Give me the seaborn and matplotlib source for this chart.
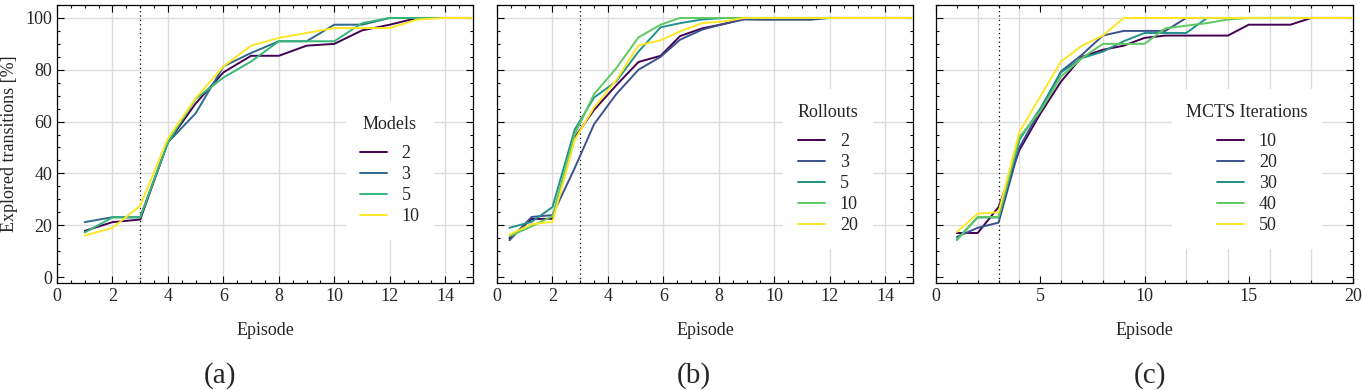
import numpy as np
import pandas as pd
import matplotlib
matplotlib.use("Agg")
import matplotlib.pyplot as plt
from matplotlib.ticker import MultipleLocator
import seaborn as sns

# ---------------- data ----------------
episodes_a = [1, 2, 3, 4, 5, 6, 7, 8, 9, 10, 11, 12, 13, 14, 15]
models_labels = ["2", "3", "5", "10"]
models_2 = [17.8, 21.2, 22.2, 52, 67, 79, 85.4, 85.4, 89.3, 90, 95.2, 97.4, 100, 100, 100]
models_3 = [21.2, 23.1, 23.1, 52, 63.2, 81.3, 86.5, 91, 91, 97.4, 97.4, 100, 100, 100, 100]
models_5 = [17.2, 23, 23, 52, 68.8, 77, 83.2, 91, 91, 91, 98, 100, 100, 100, 100]
models_10 = [16, 19, 27.5, 53.5, 69, 81.3, 89.3, 92.3, 94.2, 96.1, 96.1, 96.1, 99.4, 100, 100]

episodes_b = [0.45, 1.25, 2.0, 2.8, 3.5, 4.3, 5.1, 5.9, 6.6, 7.4, 8.2, 8.9, 9.7, 10.5, 11.3, 12.0, 12.8, 13.6, 14.3, 15.1]
rollout_labels = ["2", "3", "5", "10", "20"]
rollouts_2 = [15, 22.4, 22.5, 53.8, 64.5, 74, 83, 85.4, 93, 96, 97.7, 99.6, 100, 100, 100, 100, 100, 100, 100, 100]
rollouts_3 = [14.2, 23.2, 23.9, 42, 59, 70.6, 80, 85, 91.6, 95.5, 97.8, 99.4, 99.3, 99.3, 99.3, 100, 100, 100, 100, 100]
rollouts_5 = [19, 21.3, 27, 56.8, 69.3, 75.5, 87, 96.4, 98, 99.4, 100, 100, 100, 100, 100, 100, 100, 100, 100, 100]
rollouts_10 = [15.7, 19.6, 23.5, 55, 70.6, 80.6, 92.5, 97.4, 100, 100, 100, 100, 100, 100, 100, 100, 100, 100, 100, 100]
rollouts_20 = [16.4, 20.4, 21.3, 52.9, 65.5, 76, 89.4, 91.4, 94.8, 98, 98.7, 100, 100, 100, 100, 100, 100, 100, 100, 100]

episodes_c = [1, 2, 3, 4, 5, 6, 7, 8, 9, 10, 11, 12, 13, 14, 15, 16, 17, 18, 19, 20]
mcts_labels = ["10", "20", "30", "40", "50"]
mcts_10 = [17, 17, 27, 49, 63, 75.5, 85, 87.7, 89.3, 92.3, 93.2, 93.2, 93.2, 93.2, 97.4, 97.4, 97.4, 100, 100, 100]
mcts_20 = [15.5, 19, 21, 50, 64.5, 79.4, 85.8, 93.2, 95, 95, 95, 100, 100, 100, 100, 100, 100, 100, 100, 100]
mcts_30 = [14.6, 23, 23, 53, 65, 79, 84.5, 87, 91, 94.2, 94.2, 94.2, 100, 100, 100, 100, 100, 100, 100, 100]
mcts_40 = [14.2, 23.2, 23.2, 54, 64, 77.4, 84.5, 90, 90, 90, 96, 97, 98, 99.4, 100, 100, 100, 100, 100, 100]
mcts_50 = [17.4, 24.5, 25, 56, 69.7, 83.2, 89.3, 93.2, 100, 100, 100, 100, 100, 100, 100, 100, 100, 100, 100, 100]

panel_letters = ["(a)", "(b)", "(c)"]
legend_titles = ["Models", "Rollouts", "MCTS Iterations"]

# ---------------- style ----------------
sns.set_theme(style="white")
plt.rcParams["font.family"] = ["Liberation Serif", "DejaVu Serif"]
plt.rcParams["font.size"] = 13

def long_frame(x, labels, series):
    rows = []
    for lab, ys in zip(labels, series):
        for xi, yi in zip(x, ys):
            rows.append({"Episode": xi, "value": yi, "group": lab})
    return pd.DataFrame(rows)

panels = [
    (episodes_a, models_labels, [models_2, models_3, models_5, models_10], 15, 2, 0.5, [2, 4, 6, 8, 10, 12, 14], (0.80, 0.405)),
    (episodes_b, rollout_labels, [rollouts_2, rollouts_3, rollouts_5, rollouts_10, rollouts_20], 15, 2, 0.5, [2, 4, 6, 8, 10, 12, 14], (0.796, 0.41)),
    (episodes_c, mcts_labels, [mcts_10, mcts_20, mcts_30, mcts_40, mcts_50], 20, 5, 1, [2, 4, 6, 8, 10, 12, 14, 16, 18], (0.746, 0.41)),
]

W, H = 1363, 390
fig = plt.figure(figsize=(W / 100, H / 100), dpi=100)
lefts = [57, 497, 936]
widths = [416, 416, 417]
letter_x = [220, 694, 1150]
top_px, bot_px = 5, 283

for i, (x, labels, series, xmax, xmaj, xmin, vgrid, lpos) in enumerate(panels):
    ax = fig.add_axes([lefts[i] / W, (H - bot_px) / H, widths[i] / W, (bot_px - top_px) / H])
    df = long_frame(x, labels, series)
    cols = plt.cm.viridis(np.linspace(0, 1, len(labels)))
    pal = {lab: cols[k] for k, lab in enumerate(labels)}
    sns.lineplot(data=df, x="Episode", y="value", hue="group", hue_order=labels,
                 palette=pal, lw=1.4, ax=ax, zorder=3)
    ax.set_xlim(0, xmax)
    ax.set_ylim(-2.3, 105)
    ax.xaxis.set_major_locator(MultipleLocator(xmaj))
    ax.xaxis.set_minor_locator(MultipleLocator(xmin))
    ax.yaxis.set_major_locator(MultipleLocator(20))
    ax.yaxis.set_minor_locator(MultipleLocator(5))
    for gx in vgrid:
        ax.axvline(gx, color="#dcdcdc", lw=1.0, zorder=0)
    for gy in [20, 40, 60, 80, 100]:
        ax.axhline(gy, color="#dcdcdc", lw=1.0, zorder=0)
    ax.axvline(3, color="black", lw=0.9, ls=(0, (1, 2.5)), zorder=2)
    ax.tick_params(which="both", direction="in", top=True, right=True, bottom=True, left=True,
                   color="black", labelsize=13)
    ax.tick_params(which="major", length=5, width=0.8)
    ax.tick_params(which="minor", length=2.5, width=0.8)
    for s in ax.spines.values():
        s.set_color("black")
        s.set_linewidth(0.9)
    ax.set_xlabel("Episode", fontsize=13, labelpad=12)
    if i == 0:
        ax.set_ylabel("Explored transitions [%]", fontsize=13, labelpad=5)
    else:
        ax.set_ylabel("")
        ax.set_yticklabels([])
    leg = ax.legend(title=legend_titles[i], loc="center", bbox_to_anchor=lpos,
                    frameon=True, facecolor="white", edgecolor="none", framealpha=1,
                    fontsize=13, title_fontsize=13, handlelength=1.5, labelspacing=0.22,
                    borderpad=0.8)
    leg._legend_box.sep = 9
    leg.set_zorder(5)
    fig.text(letter_x[i] / W, (H - 376) / H, panel_letters[i], ha="center", va="center", fontsize=21)

fig.savefig("out.png", dpi=100)
